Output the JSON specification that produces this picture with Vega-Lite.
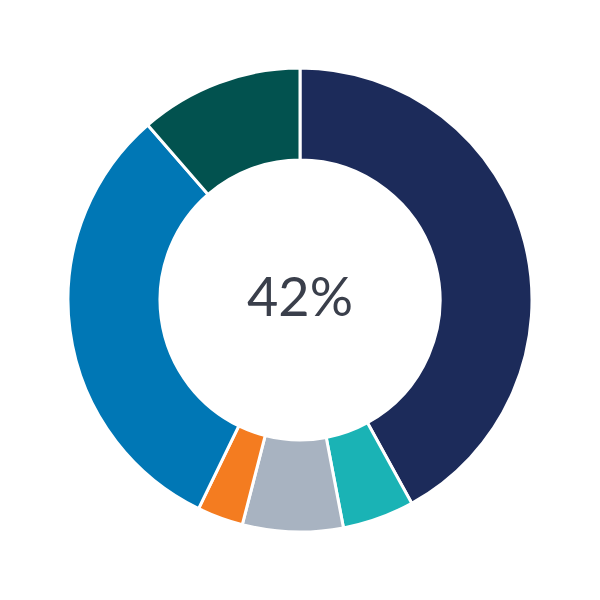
{
  "$schema": "https://vega.github.io/schema/vega-lite/v6.json",
  "autosize": {"type": "fit", "contains": "padding"},
  "width": 600,
  "height": 600,
  "padding": 0,
  "background": "#ffffff",
  "view": {"stroke": null},
  "layer": [
    {
      "data": {
        "values": [
          {"segment": "A", "share": 42, "rank": 1},
          {"segment": "B", "share": 5, "rank": 2},
          {"segment": "C", "share": 7, "rank": 3},
          {"segment": "D", "share": 3.2, "rank": 4},
          {"segment": "E", "share": 31.4, "rank": 5},
          {"segment": "F", "share": 11.4, "rank": 6}
        ]
      },
      "mark": {"type": "arc", "outerRadius": 232, "innerRadius": 140, "stroke": "#ffffff", "strokeWidth": 3},
      "encoding": {
        "theta": {"field": "share", "type": "quantitative", "stack": true},
        "order": {"field": "rank", "type": "quantitative"},
        "color": {
          "field": "segment",
          "type": "nominal",
          "scale": {
            "domain": ["A", "B", "C", "D", "E", "F"],
            "range": ["#1c2b5a", "#1ab3b5", "#a8b3c1", "#f47c20", "#0077b5", "#02524f"]
          },
          "legend": null
        }
      }
    },
    {
      "data": {"values": [{"label": "42%"}]},
      "mark": {
        "type": "text",
        "font": "Lato",
        "fontSize": 54,
        "fontWeight": "normal",
        "color": "#3a3f4b",
        "align": "center",
        "baseline": "middle"
      },
      "encoding": {"text": {"field": "label", "type": "nominal"}}
    }
  ]
}
